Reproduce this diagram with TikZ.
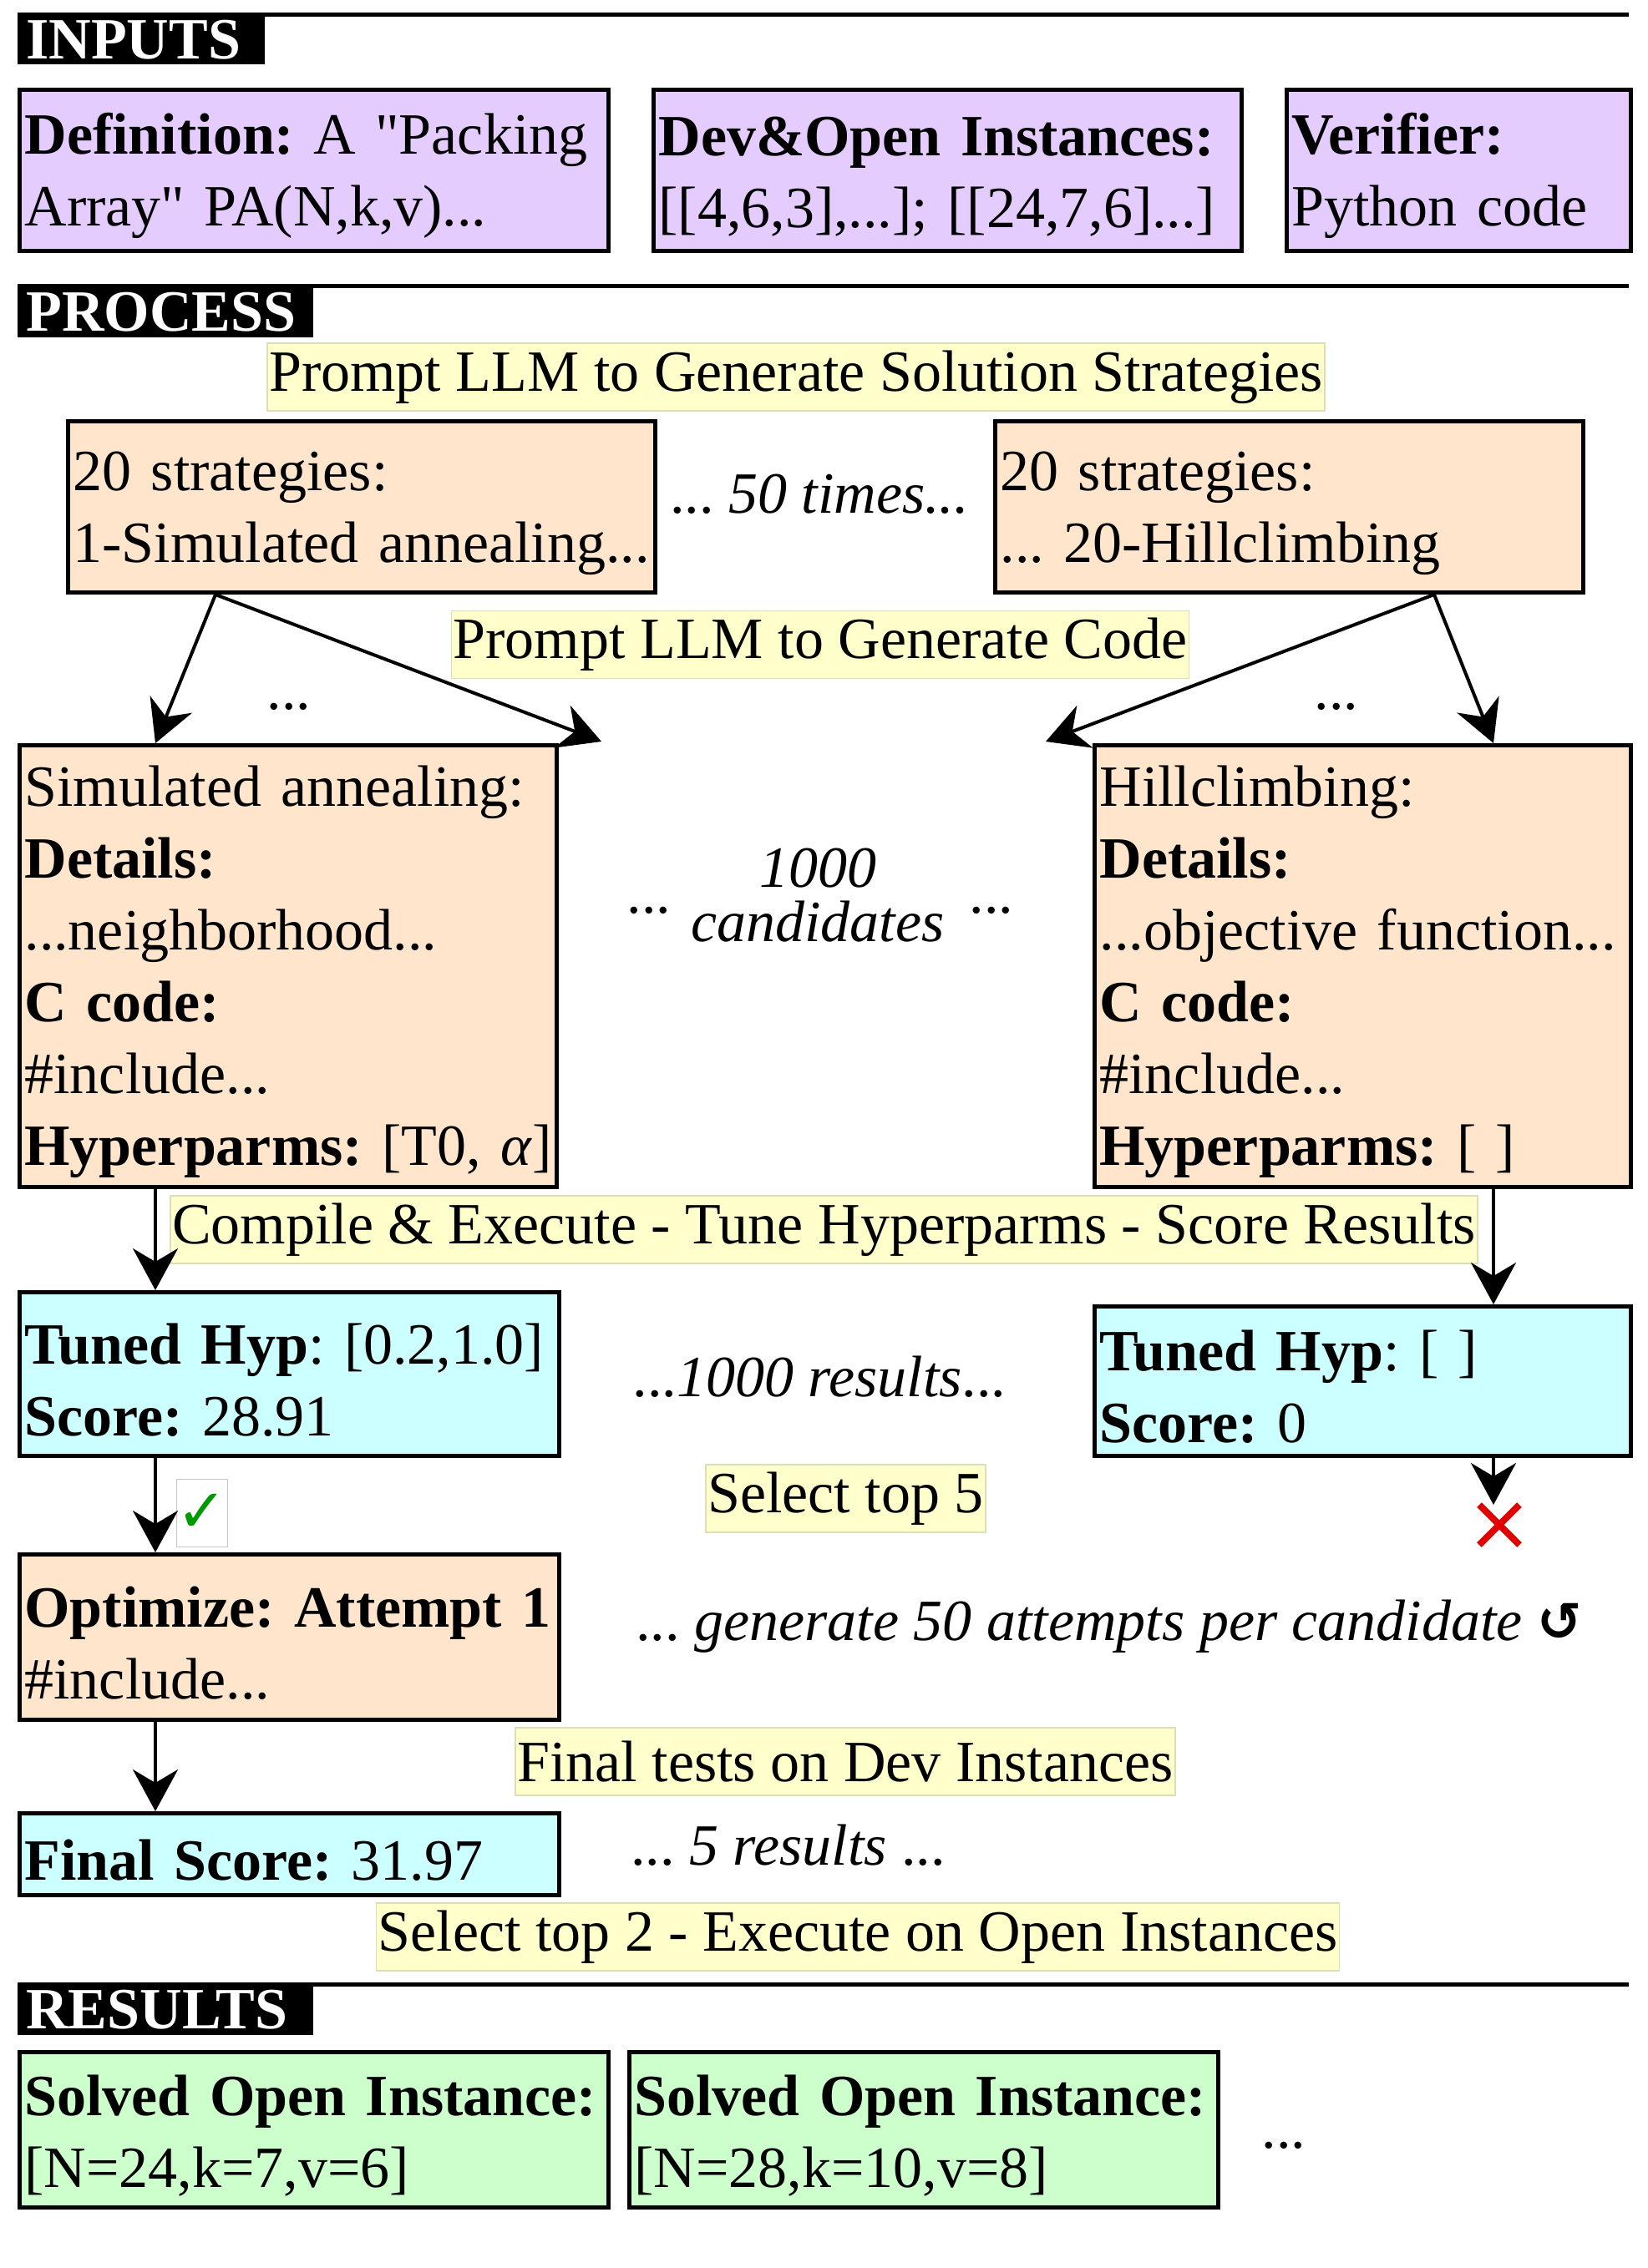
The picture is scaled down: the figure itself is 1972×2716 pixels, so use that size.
\documentclass[tikz,border=0pt]{standalone}
\usepackage{fontspec}
\setmainfont{Liberation Serif}[Ligatures=TeXOff]
\newfontfamily\djsym{DejaVu Sans}
\usetikzlibrary{arrows.meta,shapes.misc}
\definecolor{cpurple}{HTML}{E5CCFF}
\definecolor{cpeach}{HTML}{FFE5CC}
\definecolor{ccyan}{HTML}{CCFFFF}
\definecolor{cgreen}{HTML}{CCFFCC}
\definecolor{cyellow}{HTML}{FFFFCC}
\definecolor{cyline}{HTML}{DDDDB8}
\definecolor{ccheck}{HTML}{009900}
\definecolor{cred}{HTML}{E00000}
\frenchspacing
\begin{document}
\begin{tikzpicture}[x=0.5pt,y=-0.5pt,
  every node/.style={font=\fontsize{35}{43}\selectfont},
  box/.style={draw=black, line width=2.5pt, anchor=north west, inner xsep=3pt, inner ysep=0pt, align=left, execute at begin node={\frenchspacing\rule{0pt}{31pt}}},
  hdr/.style={fill=black, text=white, font=\fontsize{35}{43}\selectfont\bfseries, anchor=north west, inner xsep=5pt, inner ysep=0pt, align=left},
  ylab/.style={fill=cyellow, draw=cyline, line width=0.8pt, inner xsep=1pt, inner ysep=0pt, minimum height=40.5pt, execute at begin node=\frenchspacing},
  plain/.style={inner sep=0pt, execute at begin node=\frenchspacing},
  arr/.style={line width=2pt, -{Stealth[length=25pt,width=27pt,inset=8pt]}},
  secline/.style={line width=2.5pt},
]
\useasboundingbox (0,0) rectangle (1972,2716);
\coordinate (rt) at (1950,0);
\coordinate (colL) at (186,0);
\coordinate (colR) at (1788,0);

% ---------- INPUTS
\node[hdr, text width=138pt, minimum height=30pt] (hin) at (21,17) {INPUTS};
\draw[secline] (hin.north west) -- (hin.north west -| rt);
\node[box, fill=cpurple, text width=346.5pt, minimum height=96.5pt] (def) at (21,105) {\mbox{\textbf{Definition:} A "Packing}\\\mbox{Array" PA(N,k,v)...}};
\node[box, fill=cpurple, text width=346pt, minimum height=96.5pt] (dev) at (780,105) {\mbox{\textbf{Dev\&Open Instances:}}\\\mbox{[[4,6,3],...]; [[24,7,6]...]}};
\node[box, fill=cpurple, text width=200pt, minimum height=96.5pt] (ver) at (1538,105) {\textbf{Verifier:}\\\mbox{Python code}};

% ---------- PROCESS
\node[hdr, text width=167pt, minimum height=31pt] (hpr) at (21,342) {PROCESS};
\draw[secline] (hpr.north west) -- (hpr.north west -| rt);
\node[ylab] (ystrat) at (953,451.5) {Prompt LLM to Generate Solution Strategies};
\node[box, fill=cpeach, text width=345.5pt, minimum height=102.5pt] (s1) at (79,502) {\mbox{20 strategies:}\\\mbox{1-Simulated annealing...}};
\node[box, fill=cpeach, text width=346pt, minimum height=102.5pt] (s2) at (1189,502) {\mbox{20 strategies:}\\\mbox{... 20-Hillclimbing}};
\node[plain, anchor=base] (t50) at (981,614) {... \textit{50 times...}};

\node[ylab] (ycode) at (982,772) {Prompt LLM to Generate Code};
\node[plain, anchor=base] (d1) at (346,849) {...};
\node[plain, anchor=base] (d2) at (1600,849) {...};

\node[box, fill=cpeach, text width=315.5pt, minimum height=264.5pt] (c1) at (21,890) {\mbox{Simulated annealing:}\\\textbf{Details:}\\\mbox{...neighborhood...}\\\textbf{C code:}\\\#include...\\\mbox{\textbf{Hyperparms:} [T0, \textit{α}]}};
\node[box, fill=cpeach, text width=315pt, minimum height=264.5pt] (c2) at (1308,890) {\mbox{Hillclimbing:}\\\textbf{Details:}\\\mbox{...objective function...}\\\textbf{C code:}\\\#include...\\\mbox{\textbf{Hyperparms:} [ ]}};
\node[plain, align=center, font=\fontsize{35}{32.5}\selectfont\itshape] (cand) at (979,1072) {1000\\candidates};
\node[plain, anchor=base] (d3) at (777,1093) {...};
\node[plain, anchor=base] (d4) at (1187,1093) {...};

\node[ylab] (ycomp) at (986.5,1472.5) {Compile \& Execute - Tune Hyperparms - Score Results};

\node[box, fill=ccyan, text width=317pt, minimum height=98pt] (t1) at (21,1545) {\mbox{\textbf{Tuned Hyp}: [0.2,1.0]}\\\mbox{\textbf{Score:} 28.91}};
\node[box, fill=ccyan, text width=315pt, minimum height=89.5pt] (t2) at (1308,1562) {\mbox{\textbf{Tuned Hyp}: [ ]}\\\mbox{\textbf{Score:} 0}};
\node[plain, anchor=base] (r1000) at (981,1672) {...\textit{1000 results}...};

\node[draw=gray!45, line width=0.5pt, minimum width=24pt, minimum height=40.5pt, inner sep=0pt, text=ccheck, font=\djsym\fontsize{36}{36}\selectfont] (chk) at (242,1812) {✓};
\node[ylab] (ysel5) at (1012.5,1794.5) {Select top 5};
\node[cross out, draw=cred, line width=4pt, minimum size=20pt, inner sep=0pt] (xm) at (1795,1826) {};

\node[box, fill=cpeach, text width=317pt, minimum height=99pt] (opt) at (21,1859) {\mbox{\textbf{Optimize: Attempt 1}}\\\#include...};
\node[plain, anchor=base west] (gen) at (761,1964) {... \textit{generate 50 attempts per candidate} {\djsym\bfseries\fontsize{32}{32}\selectfont ↺}};

\node[ylab] (yfin) at (1012,2109.5) {Final tests on Dev Instances};
\node[box, fill=ccyan, text width=317pt, minimum height=49pt] (fin) at (21,2169) {\mbox{\textbf{Final Score:} 31.97}};
\node[plain, anchor=base west] (r5) at (755,2233) {... \textit{5 results} ...};
\node[ylab] (ysel2) at (1027,2319.5) {Select top 2 - Execute on Open Instances};

% ---------- RESULTS
\node[hdr, text width=167pt, minimum height=30.5pt] (hre) at (21,2376) {RESULTS};
\draw[secline] (hre.north west) -- (hre.north west -| rt);
\node[box, fill=cgreen, text width=346.5pt, minimum height=93pt] (g1) at (21,2455) {\mbox{\textbf{Solved Open Instance:}}\\\mbox{[N=24,k=7,v=6]}};
\node[box, fill=cgreen, text width=346.5pt, minimum height=93pt] (g2) at (751,2455) {\mbox{\textbf{Solved Open Instance:}}\\\mbox{[N=28,k=10,v=8]}};
\node[plain, anchor=base] (d5) at (1537,2572) {...};

% ---------- connectors
\coordinate (cl2) at (720,888);
\coordinate (cr2) at (1252,888);
\draw[arr] ([xshift=89.5pt]s1.south west) -- (c1.north -| colL);
\draw[arr] ([xshift=89.5pt]s1.south west) -- (cl2);
\draw[arr] ([xshift=264pt]s2.south west) -- (c2.north -| colR);
\draw[arr] ([xshift=264pt]s2.south west) -- (cr2);
\draw[arr] (c1.south -| colL) -- (t1.north -| colL);
\draw[arr] (c2.south -| colR) -- (t2.north -| colR);
\draw[arr] (t1.south -| colL) -- (opt.north -| colL);
\draw[arr] (t2.south -| colR) -- (xm.north -| colR);
\draw[arr] (opt.south -| colL) -- (fin.north -| colL);
\end{tikzpicture}
\end{document}
